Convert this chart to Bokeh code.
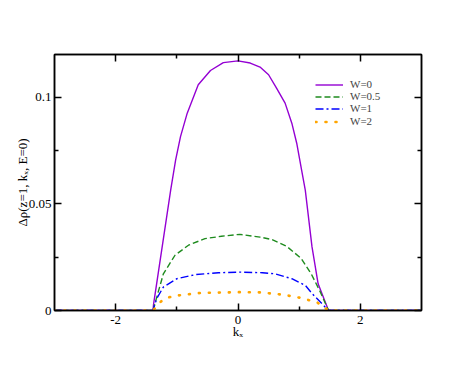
from bokeh.plotting import figure
from bokeh.models import (FixedTicker, NumeralTickFormatter, LinearAxis, Legend,
                          LegendItem, CustomJSTickFormatter)
from bokeh.embed import file_html
from bokeh.resources import INLINE

# ---- data ----
kx_w0 = [-3.0, -1.39, -1.38, -1.1, -1.02, -0.94, -0.83, -0.65, -0.45, -0.24, 0.0,
         0.2, 0.36, 0.5, 0.63, 0.77, 0.88, 0.96, 1.04, 1.1, 1.21, 1.31, 1.48, 3.0]
rho_w0 = [0.0, 0.0, 0.003, 0.0565, 0.0705, 0.0815, 0.0925, 0.1058, 0.1125, 0.1162, 0.117,
          0.116, 0.1141, 0.1105, 0.1042, 0.0972, 0.0878, 0.0784, 0.0658, 0.0564, 0.0298,
          0.0125, 0.0, 0.0]

kx_w05 = [-3.0, -1.39, -1.36, -1.22, -1.03, -0.81, -0.54, -0.27, 0.03, 0.36, 0.55,
          0.8, 1.03, 1.2, 1.34, 1.48, 3.0]
rho_w05 = [0.0, 0.0, 0.003, 0.0172, 0.0259, 0.0306, 0.0337, 0.0348, 0.0357, 0.0344,
           0.0333, 0.0300, 0.0245, 0.017, 0.009, 0.0, 0.0]

kx_w1 = [-3.0, -1.39, -1.33, -1.22, -1.0, -0.7, -0.32, 0.03, 0.4, 0.6, 0.88, 1.1,
         1.21, 1.48, 3.0]
rho_w1 = [0.0, 0.0, 0.0055, 0.011, 0.0149, 0.0168, 0.0177, 0.018, 0.0177, 0.0172,
          0.0149, 0.0118, 0.008, 0.0, 0.0]

kx_w2 = [-3.0, -1.39, -1.3, -1.22, -1.06, -0.62, 0.0, 0.36, 0.74, 1.01, 1.29, 1.48, 3.0]
rho_w2 = [0.0, 0.0, 0.003, 0.0053, 0.0068, 0.0082, 0.0086, 0.0085, 0.0074, 0.006,
          0.0039, 0.0, 0.0]

labels = ["W=0", "W=0.5", "W=1", "W=2"]
x_ticks = [-2, 0, 2]
x_minor = [-1, 1]
y_ticks = [0, 0.05, 0.1]
y_minor = [0.025, 0.075]

SERIF = "Liberation Serif"

p = figure(x_range=(-3, 3), y_range=(0, 0.12),
           frame_width=367, frame_height=256,
           min_border_left=54, min_border_right=45,
           min_border_top=54, min_border_bottom=40,
           output_backend="svg", toolbar_location=None)
p.grid.visible = False
p.outline_line_color = "black"
p.outline_line_width = 1.5
p.background_fill_color = "white"
p.border_fill_color = "white"

def style_axis(ax, ticks, minor, fmt):
    ax.ticker = FixedTicker(ticks=ticks, minor_ticks=minor)
    ax.formatter = fmt
    ax.axis_line_color = "black"
    ax.axis_line_width = 1.5
    ax.major_tick_in = 7
    ax.major_tick_out = 0
    ax.minor_tick_in = 4
    ax.minor_tick_out = 0
    ax.major_tick_line_width = 1.5
    ax.minor_tick_line_width = 1.5
    ax.major_label_text_font = SERIF
    ax.major_label_text_font_size = "13px"
    ax.major_label_text_color = "black"
    ax.axis_label_text_font = SERIF
    ax.axis_label_text_font_size = "13px"
    ax.axis_label_text_font_style = "normal"
    ax.axis_label_text_color = "black"

style_axis(p.xaxis[0], x_ticks, x_minor, NumeralTickFormatter(format="0"))
style_axis(p.yaxis[0], y_ticks, y_minor, NumeralTickFormatter(format="0.[00]"))
p.xaxis[0].major_label_standoff = 5
p.yaxis[0].major_label_standoff = 3
p.xaxis[0].axis_label = "kₓ"
p.yaxis[0].axis_label = "Δρ(z=1, kₓ, E=0)"
p.xaxis[0].axis_label_standoff = -3
p.yaxis[0].axis_label_standoff = -4

blank = CustomJSTickFormatter(code="return ''")
top = LinearAxis()
right = LinearAxis()
style_axis(top, x_ticks, x_minor, blank)
style_axis(right, y_ticks, y_minor, blank)
top.major_label_text_font_size = "1px"
right.major_label_text_font_size = "1px"
p.add_layout(top, "above")
p.add_layout(right, "right")

r0 = p.line(kx_w0, rho_w0, line_color="#9400d3", line_width=1.4)
r1 = p.line(kx_w05, rho_w05, line_color="#1e8b1e", line_width=1.4, line_dash="6 3")
r2 = p.line(kx_w1, rho_w1, line_color="#0000ff", line_width=1.4, line_dash="8 3 2 3")
r3 = p.line(kx_w2, rho_w2, line_color="#ffa500", line_width=2.6, line_dash="1 9",
            line_cap="round")

# one legend per row so the row pitch can match the reference
legend_bottoms = [220, 208, 196, 183]
for lab, r, yb in zip(labels, [r0, r1, r2, r3], legend_bottoms):
    lg = Legend(items=[LegendItem(label=lab, renderers=[r])],
                location=(261, yb), orientation="vertical",
                border_line_color=None, background_fill_alpha=0,
                padding=0, spacing=0, margin=0,
                glyph_width=28, glyph_height=11, label_height=11,
                label_standoff=7, label_text_font=SERIF,
                label_text_font_size="11px", label_text_line_height=1.0)
    p.add_layout(lg)

open("out.html", "w").write(file_html(p, INLINE))
